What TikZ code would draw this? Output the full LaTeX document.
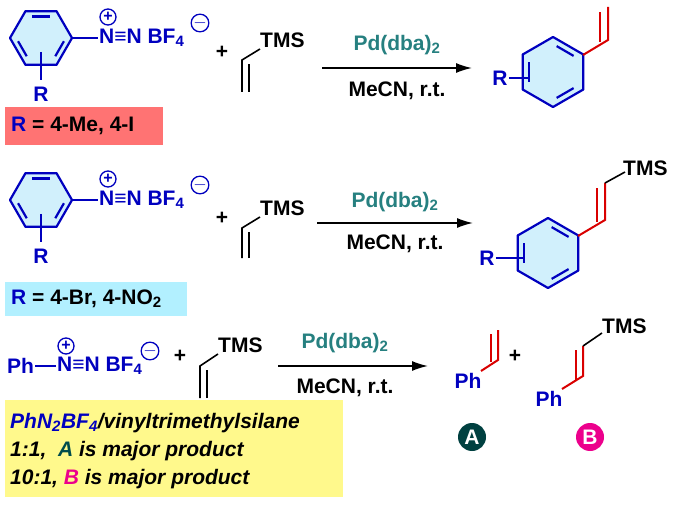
\documentclass[tikz,border=0pt]{standalone}
\usepackage{fontspec}
\setmainfont{Liberation Sans}
\usetikzlibrary{calc,arrows.meta}
\begin{document}
\newcommand{\myring}[4]{% cx cy r start-angle
  \begin{scope}[shift={(#1,#2)}]
  \fill[ringfill] (#4:#3) \foreach \k in {1,...,5}{ -- (#4+60*\k:#3)} -- cycle;
  \draw[ring] (#4:#3) \foreach \k in {1,...,5}{ -- (#4+60*\k:#3)} -- cycle;
  \foreach \k in {0,2,4}{
    \draw[ring] ($(#4+60*\k:#3*0.8)!0.15!(#4+60*\k+60:#3*0.8)$) -- ($(#4+60*\k:#3*0.8)!0.85!(#4+60*\k+60:#3*0.8)$);}
  \end{scope}
}
\newcommand{\sbs}[1]{\textsubscript{\fontsize{15}{15}\selectfont #1}}
\begin{tikzpicture}[x=1pt,y=-1pt,
  every node/.style={font=\fontsize{21}{24}\selectfont\bfseries, inner sep=1pt},
  ring/.style={draw=blue!75!black, line width=2.2pt, line join=round},
  ringfill/.style={fill=cyan!18},
  bnd/.style={line width=1.6pt},
  red bond/.style={line width=2pt, draw=red!85!black},
  blu/.style={text=blue!75!black},
  arr/.style={line width=1.6pt,-{Latex[length=16pt,width=10pt]}},
  cond/.style={text=teal!70!gray},
  chg/.style={circle, draw=blue!75!black, text=blue!75!black, line width=1.3pt, inner sep=0pt, minimum size=16pt, font=\fontsize{16}{16}\selectfont\bfseries},
  it/.style={anchor=west, font=\fontsize{21}{24}\selectfont\bfseries\itshape}]
\useasboundingbox (0,0) rectangle (680,505);
% ---------- row 1 ----------
\node[fill=red!55!white, minimum width=158pt, minimum height=38pt, anchor=north west] (box1) at (5,107) {};
\node[anchor=west] (t1) at (10,126) {\textcolor{blue!75!black}{R} = 4-Me, 4-I};
\myring{41}{38}{31}{0}
\draw[ring] (41,52) -- (41,80);
\node[blu] (r1) at (41,94) {R};
\node[blu, anchor=west] (n1) at (98,38) {N≡N BF\sbs{4}};
\draw[ring] (72,38) -- (n1.west);
\node[chg] (p1) at (108,17) {+};
\node[chg] (m1) at (200,23) {$-$};
\node (plus1) at (222,52) {+};
\draw[bnd] (242,92) -- (242,60) -- (260,49);
\draw[bnd] (249,92) -- (249,64);
\node[anchor=west] (tms1) at (259,40) {TMS};
\coordinate (a1s) at (322,68); \coordinate (a1e) at (472,68);
\draw[arr] (a1s) -- (a1e);
\node[cond] (c1) at (397,45) {Pd(dba)\sbs{2}};
\node (d1) at (397,91) {MeCN, r.t.};
\myring{553}{72}{35}{30}
\draw[red bond] (583,55) -- (608,40) -- (608,7);
\draw[red bond] (600,42) -- (600,12);
\node[blu] (r1p) at (500,78) {R};
\draw[ring] (r1p.east) -- (528,78);
% ---------- row 2 ----------
\node[fill=blue!20!cyan!30, minimum width=182pt, minimum height=34pt, anchor=north west] (box2) at (5,282) {};
\node[anchor=west] (t2) at (10,299) {\textcolor{blue!75!black}{R} = 4-Br, 4-NO\sbs{2}};
\myring{41}{200}{31}{0}
\draw[ring] (41,214) -- (41,242);
\node[blu] (r2) at (41,256) {R};
\node[blu, anchor=west] (n2) at (98,200) {N≡N BF\sbs{4}};
\draw[ring] (72,200) -- (n2.west);
\node[chg] (p2) at (108,179) {+};
\node[chg] (m2) at (200,185) {$-$};
\node (plus2) at (222,218) {+};
\draw[bnd] (242,258) -- (242,228) -- (260,217);
\draw[bnd] (249,258) -- (249,232);
\node[anchor=west] (tms2) at (259,208) {TMS};
\coordinate (a2s) at (317,223); \coordinate (a2e) at (473,223);
\draw[arr] (a2s) -- (a2e);
\node[cond] (c2) at (395,202) {Pd(dba)\sbs{2}};
\node (d2) at (395,244) {MeCN, r.t.};
\myring{548}{253}{35}{30}
\draw[red bond] (578,236) -- (605,220) -- (605,183);
\draw[red bond] (597,222) -- (597,188);
\draw[bnd] (605,183) -- (625,172);
\node[anchor=west] (tms2p) at (622,168) {TMS};
\node[blu] (r2p) at (487,258) {R};
\draw[ring] (r2p.east) -- (523,258);
% ---------- row 3 ----------
\node[blu, anchor=west] (ph3) at (6,366) {Ph};
\node[blu, anchor=west] (n3) at (56,366) {N≡N BF\sbs{4}};
\draw[line width=1.6pt, blue!75!black] (ph3.east) -- (n3.west);
\node[chg] (p3) at (66,346) {+};
\node[chg] (m3) at (150,351) {$-$};
\node (plus3) at (180,356) {+};
\draw[bnd] (200,398) -- (200,366) -- (218,354);
\draw[bnd] (207,398) -- (207,370);
\node[anchor=west] (tms3) at (217,345) {TMS};
\coordinate (a3s) at (278,366); \coordinate (a3e) at (428,366);
\draw[arr] (a3s) -- (a3e);
\node[cond] (c3) at (345,343) {Pd(dba)\sbs{2}};
\node (d3) at (345,388) {MeCN, r.t.};
\node[blu] (pha) at (468,381) {Ph};
\draw[red bond] (481,371) -- (498,360) -- (498,330);
\draw[red bond] (491,362) -- (491,334);
\node (plus4) at (515,356) {+};
\node[blu] (phb) at (549,399) {Ph};
\draw[red bond] (562,389) -- (583,376) -- (583,346);
\draw[red bond] (576,380) -- (576,350);
\draw[bnd] (583,346) -- (602,333);
\node[anchor=west] (tms3p) at (601,326) {TMS};
\node[circle, fill=teal!50!black, text=white, minimum size=28pt, inner sep=0pt] (A) at (472,437) {A};
\node[circle, fill=magenta, text=white, minimum size=28pt, inner sep=0pt] (B) at (590,437) {B};
\node[fill=yellow!45, minimum width=338pt, minimum height=97pt, anchor=north west] (box3) at (5,400) {};
\node[it] (l1) at (9,423) {\textcolor{blue!75!black}{PhN\sbs{2}BF\sbs{4}}/vinyltrimethylsilane};
\node[it] (l2) at (9,451) {1:1,\ \ \textcolor{teal!60!black}{A} is major product};
\node[it] (l3) at (9,479) {10:1, \textcolor{magenta}{B} is major product};
\end{tikzpicture}
\end{document}
